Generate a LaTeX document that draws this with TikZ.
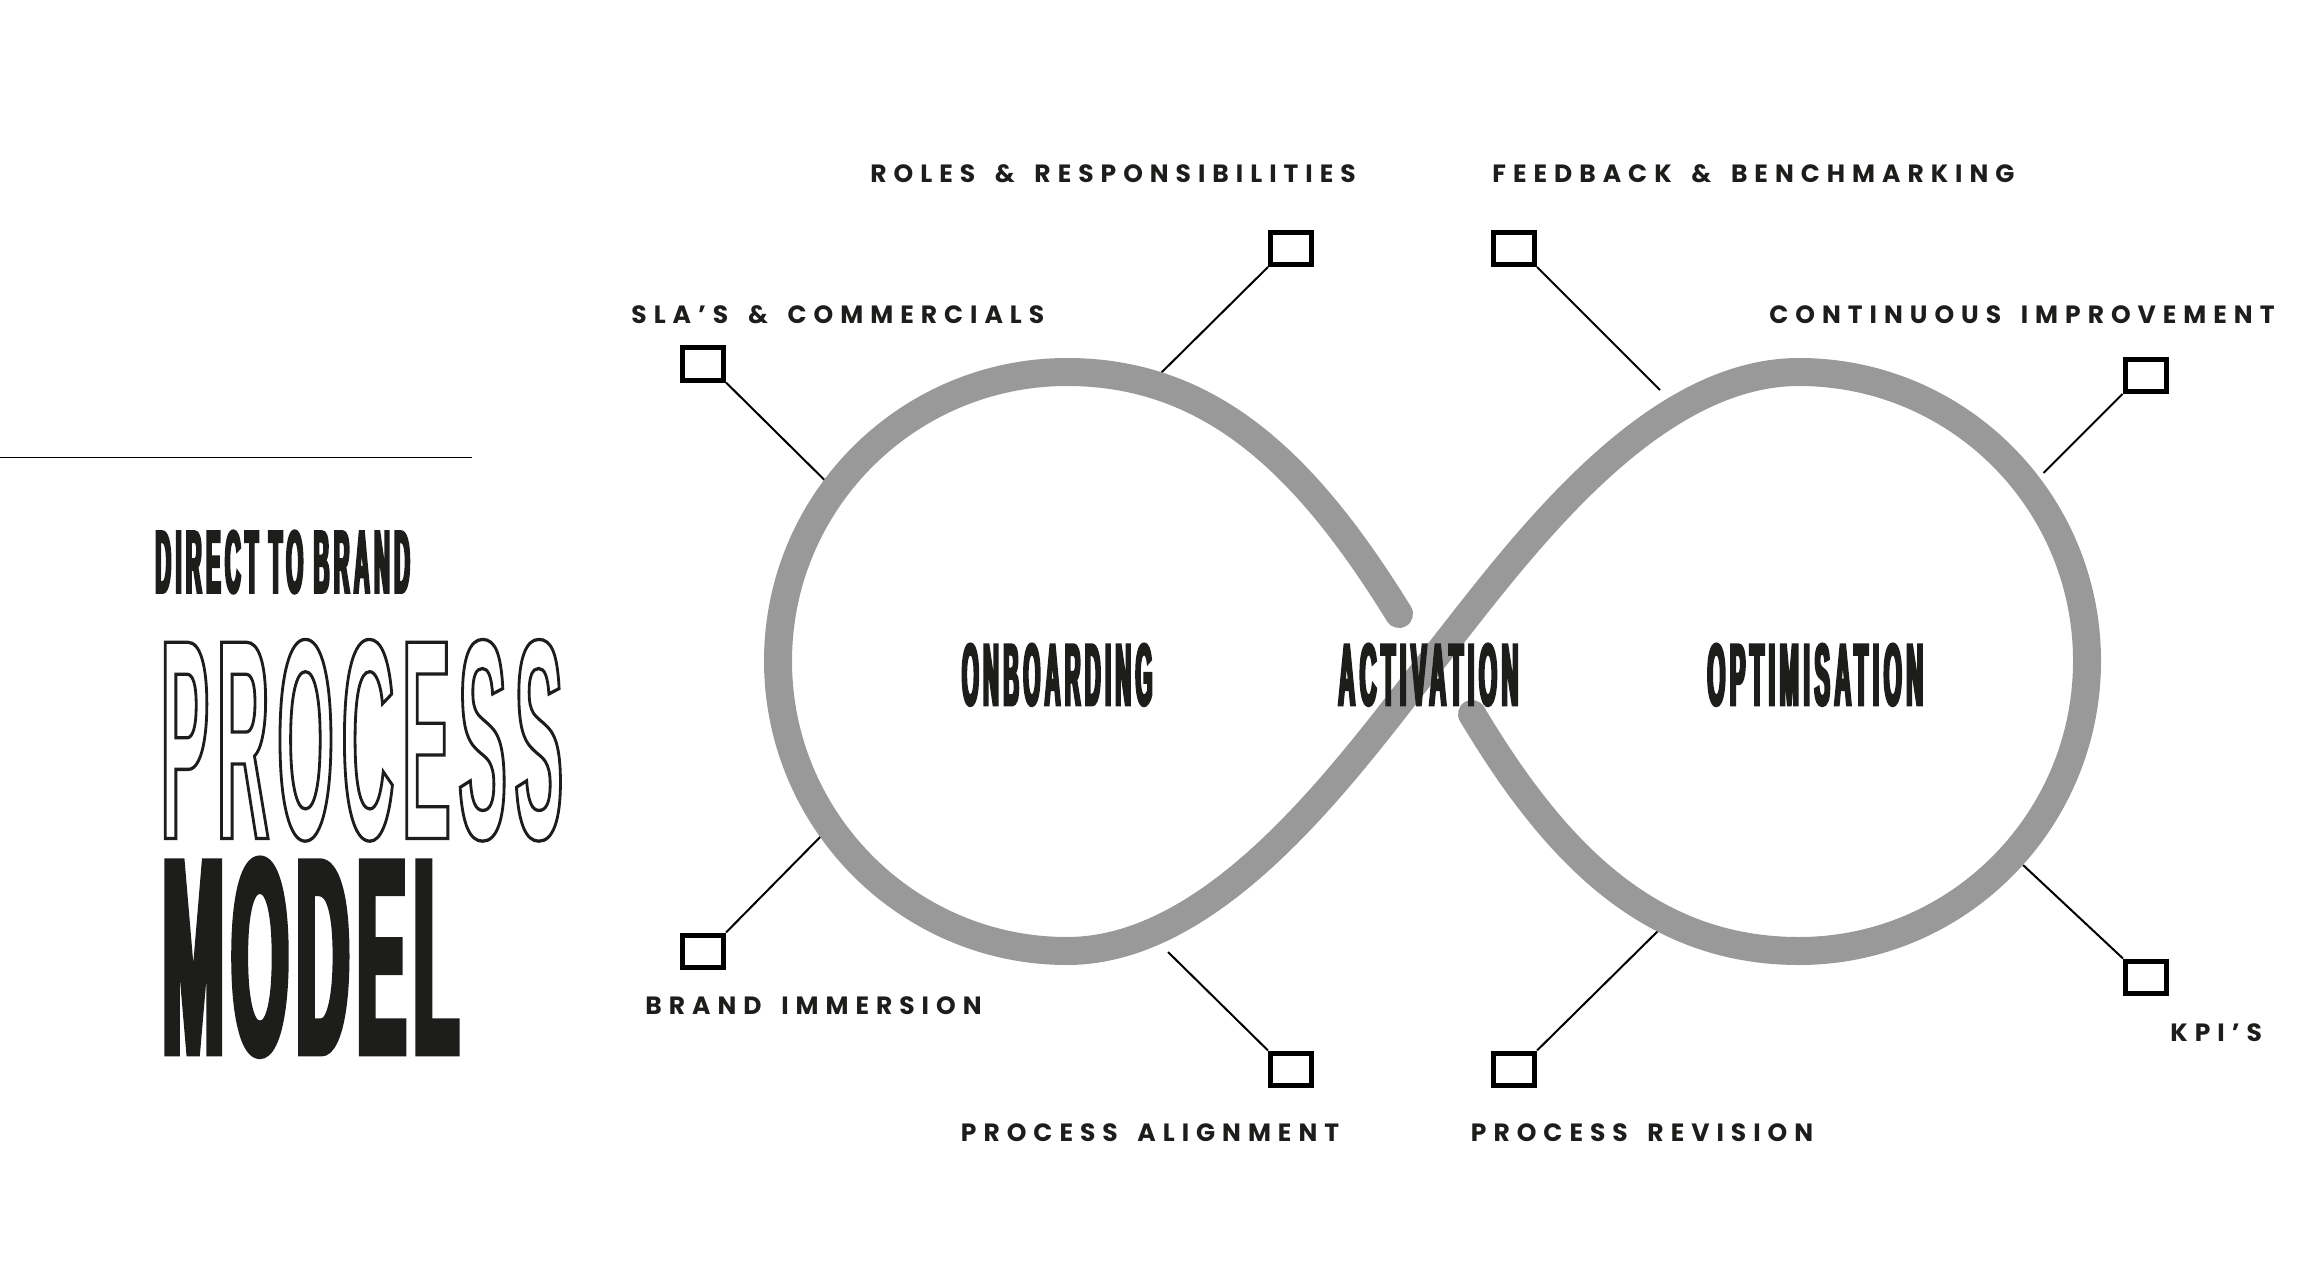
\documentclass[tikz,border=0pt]{standalone}
\usepackage{fontspec}
\usepackage{xcolor}
\usepackage{graphicx}

\newfontfamily\labelfont{Poppins}[LetterSpace=28,WordSpace=1.6]
\newfontfamily\condfont{Liberation Sans}[FakeStretch=0.3]

\definecolor{ink}{HTML}{1D1D1B}
\definecolor{bandgray}{HTML}{999999}

% fill and stroke the glyphs, #1 = stroke width in pt
\newcommand{\heavy}[2]{\special{pdf:literal direct 2 Tr #1 w}#2\special{pdf:literal direct 0 Tr}}
% white glyphs with an ink outline, #1 = outline width in pt
\newcommand{\hollow}[2]{\special{pdf:literal direct 2 Tr #1 w 1 g}#2\special{pdf:literal direct 0 Tr 0.114 0.114 0.106 rg}}

\begin{document}
\begin{tikzpicture}[x=0.5pt,y=0.5pt,yscale=-1,xscale=1,
  band/.style={draw=bandgray,line width=14pt,line cap=round},
  tickbox/.style={draw=black,line width=2.5pt,minimum width=20.5pt,minimum height=16pt,inner sep=0pt},
  leader/.style={line width=1pt},
  tag/.style={anchor=base west,inner sep=0pt,text=ink,font=\labelfont\bfseries\fontsize{12.5}{15}\selectfont},
  title/.style={anchor=north west,inner sep=0pt,text=ink}]
\useasboundingbox (0,0) rectangle (2300,1262);

%Straight Lines
\draw [line width=0.5pt] (0,457) -- (472,457) ;

%Shape: Rectangle
\node [tickbox] (sla) at (703,364) {};
\node [tickbox] (roles) at (1291,248.5) {};
\node [tickbox] (feedback) at (1514,248.5) {};
\node [tickbox] (continuous) at (2145.5,375.5) {};
\node [tickbox] (brand) at (703,951) {};
\node [tickbox] (align) at (1291,1069) {};
\node [tickbox] (revision) at (1514,1069) {};
\node [tickbox] (kpi) at (2146,977) {};

% points on the loop
\coordinate (p1) at (824.5,480);
\coordinate (p2) at (1161,373);
\coordinate (p3) at (1660,390);
\coordinate (p4) at (2043.5,473);
\coordinate (p5) at (830,827);
\coordinate (p6) at (1168,952);
\coordinate (p7) at (1663,926);
\coordinate (p8) at (2023,865);

%Straight Lines
\draw [leader] (sla.south east) -- (p1) ;
\draw [leader] (roles.south west) -- (p2) ;
\draw [leader] (feedback.south east) -- (p3) ;
\draw [leader] (continuous.south west) -- (p4) ;
\draw [leader] (brand.north east) -- (p5) ;
\draw [leader] (align.north west) -- (p6) ;
\draw [leader] (revision.north east) -- (p7) ;
\draw [leader] (kpi.north west) -- (p8) ;

%Curve Lines
\draw [band] (1399,614) .. controls (1310,470) and (1215,372) .. (1067,372)
  .. controls (908,372) and (778,501) .. (778,661)
  .. controls (778,821) and (908,951) .. (1067,951)
  .. controls (1220,951) and (1351,763) .. (1432,661)
  .. controls (1513,559) and (1645,372) .. (1799,372)
  .. controls (1958,372) and (2087,501) .. (2087,661)
  .. controls (2087,821) and (1958,951) .. (1799,951)
  .. controls (1650,951) and (1555,853) .. (1472,714) ;

% Text Node
\node [tag] (slatext) at (631,324) {SLA’S \& COMMERCIALS};
% Text Node
\node [tag] (rolestext) at (870,183) {ROLES \& RESPONSIBILITIES};
% Text Node
\node [tag] (feedbacktext) at (1492,183) {FEEDBACK \& BENCHMARKING};
% Text Node
\node [tag] (continuoustext) at (1769,324) {CONTINUOUS IMPROVEMENT};
% Text Node
\node [tag] (brandtext) at (645,1014) {BRAND IMMERSION};
% Text Node
\node [tag] (aligntext) at (960.5,1141) {PROCESS ALIGNMENT};
% Text Node
\node [tag] (revisiontext) at (1470.5,1141) {PROCESS REVISION};
% Text Node
\node [tag] (kpitext) at (2170,1041) {KPI’S};

% Text Node
\node [title] (kicker) at (155,530.4) {\resizebox{127.3pt}{30.8pt}{\condfont\bfseries\fontsize{45}{45}\selectfont\addfontfeature{LetterSpace=6}\heavy{1.5}{DIRECT TO BRAND}}};
% Text Node
\node [title] (process) at (160,639) {\resizebox{201.5pt}{99.5pt}{\condfont\bfseries\fontsize{140}{140}\selectfont\addfontfeature{LetterSpace=3}\hollow{1.6}{PROCESS}}};
% Text Node
\node [title] (model) at (162,858.5) {\resizebox{148.2pt}{97pt}{\condfont\bfseries\fontsize{140}{140}\selectfont\addfontfeature{LetterSpace=3}\heavy{3.5}{MODEL}}};
% Text Node
\node [title] (onboarding) at (961.5,643.5) {\resizebox{95.3pt}{30.5pt}{\condfont\bfseries\fontsize{45}{45}\selectfont\addfontfeature{LetterSpace=6}\heavy{1.5}{ONBOARDING}}};
% Text Node
\node [title] (activation) at (1338,643.5) {\resizebox{90pt}{30.5pt}{\condfont\bfseries\fontsize{45}{45}\selectfont\addfontfeature{LetterSpace=6}\heavy{1.5}{ACTIVATION}}};
% Text Node
\node [title] (optimisation) at (1707,643.5) {\resizebox{107.8pt}{30.5pt}{\condfont\bfseries\fontsize{45}{45}\selectfont\addfontfeature{LetterSpace=6}\heavy{1.5}{OPTIMISATION}}};

\end{tikzpicture}
\end{document}
